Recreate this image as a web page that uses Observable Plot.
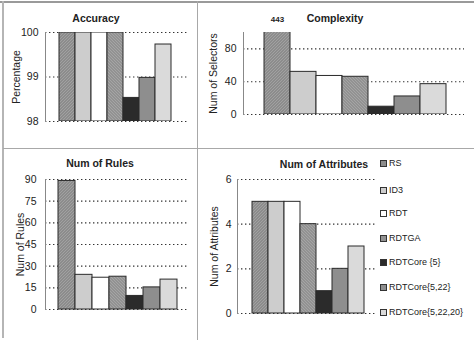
<!DOCTYPE html>
<html>
<head>
<meta charset="utf-8">
<script src="https://cdn.jsdelivr.net/npm/d3@7"></script>
<script src="https://cdn.jsdelivr.net/npm/@observablehq/plot@0.6"></script>
<style>
  body { margin: 0; background: #fff; }
  #wrap { position: relative; width: 474px; height: 340px; overflow: hidden; background: #fff;
          font-family: "Liberation Sans", Arial, sans-serif; color: #222; }
  .abs { position: absolute; }
  .title { position: absolute; font-weight: bold; font-size: 10.5px; transform: translate(-50%, -50%); white-space: nowrap; }
  .leg { position: absolute; font-size: 9px; white-space: nowrap; display: flex; align-items: center; transform: translateY(-50%); }
  .sw { width: 7px; height: 7px; border: 1px solid #333; margin-right: 2px; box-sizing: border-box; }
  .line { position: absolute; background: #a8a8a8; }
</style>
</head>
<body>
<svg width="0" height="0" style="position:absolute">
  <defs>
    <pattern id="hatchRS" width="3" height="3" patternUnits="userSpaceOnUse">
      <rect width="3" height="3" fill="#8c8c8c"></rect>
      <path d="M0,3 L3,0 M-1,1 L1,-1 M2,4 L4,2" stroke="#a6a6a6" stroke-width="0.8"></path>
    </pattern>
    <pattern id="hatchGA" width="3" height="3" patternUnits="userSpaceOnUse">
      <rect width="3" height="3" fill="#929292"></rect>
      <path d="M0,0 L3,3 M-1,2 L1,4 M2,-1 L4,1" stroke="#aaaaaa" stroke-width="0.8"></path>
    </pattern>
  </defs>
</svg>
<div id="wrap"></div>
<script>
// ---- data ----
const methods = ["RS", "ID3", "RDT", "RDTGA", "RDTCore {5}", "RDTCore{5,22}", "RDTCore{5,22,20}"];
const accuracy = [100, 100, 100, 100, 98.53, 98.98, 99.73];
const complexity = [443, 52, 47, 46, 9.5, 22, 37];
const rules = [89, 24, 22, 22.7, 9.4, 15.3, 20.7];
const attributes = [5, 5, 5, 4, 1, 2, 3];
const accuracyTicks = [98, 99, 100];
const complexityTicks = [0, 40, 80];
const complexityMax = 100;
const rulesTicks = [0, 15, 30, 45, 60, 75, 90];
const attributesTicks = [0, 2, 4, 6];

// ---- styles ----
const fills = ["url(#hatchRS)", "#cdcdcd", "#ffffff", "url(#hatchGA)", "#2b2b2b", "#8e8e8e", "#dadada"];
const legendFills = ["#8c8c8c", "#cdcdcd", "#ffffff", "#929292", "#2b2b2b", "#8e8e8e", "#dadada"];
const font = '"Liberation Sans", Arial, sans-serif';

const rows = vals => methods.map((m, i) => ({method: m, value: vals[i]}));
const wrap = document.getElementById("wrap");

function place(el, left, top) {
  el.style.position = "absolute";
  el.style.left = left + "px";
  el.style.top = top + "px";
  wrap.appendChild(el);
}

function panel({vals, ticks, domain, width, height, ml, mr, mt, mb, insetL, insetR, label, labelOffset, tickPad, clip, extra = []}) {
  return Plot.plot({
    width, height,
    marginLeft: ml, marginRight: mr, marginTop: mt, marginBottom: mb,
    style: {fontFamily: font, fontSize: "10.5px", color: "#222", background: "transparent", overflow: "visible"},
    x: {domain: methods, padding: 0, insetLeft: insetL, insetRight: insetR, axis: null},
    y: {domain, ticks},
    color: {type: "ordinal", domain: methods, range: fills},
    marks: [
      Plot.gridY(ticks, {stroke: "#333", strokeOpacity: 1, strokeWidth: 1.1, strokeDasharray: "1.4,2.6", x1: null}),
      Plot.barY(rows(vals), {x: "method", y1: domain[0], y2: "value", fill: "method", stroke: "#2a2a2a", strokeWidth: 1, clip}),
      Plot.frame({anchor: "left", stroke: "#888", strokeWidth: 1}),
      Plot.axisY(ticks, {tickSize: 0, tickPadding: tickPad, fontSize: 10.5, label, labelAnchor: "center", labelOffset, labelArrow: "none"}),
      ...extra
    ]
  });
}

// Accuracy
place(panel({vals: accuracy, ticks: accuracyTicks, domain: [98, 100], width: 197, height: 148,
  ml: 45, mr: 10, mt: 32, mb: 27, insetL: 12, insetR: 14, label: "Percentage", labelOffset: 33, tickPad: 7, clip: true}), 0, 0);

// Complexity
place(panel({vals: complexity, ticks: complexityTicks, domain: [0, complexityMax], width: 277, height: 148,
  ml: 46, mr: 10, mt: 32, mb: 34, insetL: 20, insetR: 18, label: "Num of Selectors", labelOffset: 34, tickPad: 7, clip: true,
  extra: [Plot.text(rows(complexity).filter(d => d.value > complexityMax), {x: "method", frameAnchor: "top", dy: -16, text: d => String(d.value), fontWeight: "bold", fontSize: 8})]}), 197, 0);

// Num of Rules
place(panel({vals: rules, ticks: rulesTicks, domain: [0, 90], width: 197, height: 192,
  ml: 45, mr: 10, mt: 31, mb: 31, insetL: 13, insetR: 10, label: "Num of Rules", labelOffset: 29, tickPad: 9, clip: false}), 0, 148);

// Num of Attributes
place(panel({vals: attributes, ticks: attributesTicks, domain: [0, 6], width: 277, height: 192,
  ml: 40, mr: 97, mt: 31, mb: 27, insetL: 12, insetR: 11, label: "Num of Attributes", labelOffset: 27, tickPad: 6, clip: false}), 197, 148);

// Titles
const titles = [["Accuracy", 96, 18], ["Complexity", 335, 18], ["Num of Rules", 100, 163], ["Num of Attributes", 324, 164]];
for (const [t, x, y] of titles) {
  const d = document.createElement("div");
  d.className = "title"; d.textContent = t;
  place(d, x, y);
}

// Legend
const legendY = [163, 190, 213, 238, 262, 287, 312];
methods.forEach((m, i) => {
  const d = document.createElement("div");
  d.className = "leg";
  const s = document.createElement("span");
  s.className = "sw"; s.style.background = legendFills[i];
  d.appendChild(s);
  d.appendChild(document.createTextNode(m));
  place(d, 380, legendY[i]);
});

// Panel borders
const borders = [
  {l: 0, t: 1, w: 474, h: 1.5, c: "#9a9a9a"},
  {l: 2, t: 1, w: 2, h: 337, c: "#b5b5b5"},
  {l: 196.5, t: 1, w: 1.5, h: 339, c: "#a8a8a8"},
  {l: 3, t: 147.5, w: 471, h: 1.5, c: "#a8a8a8"}
];
for (const b of borders) {
  const d = document.createElement("div");
  d.className = "line";
  d.style.width = b.w + "px"; d.style.height = b.h + "px"; d.style.background = b.c;
  place(d, b.l, b.t);
}
</script>
</body>
</html>
